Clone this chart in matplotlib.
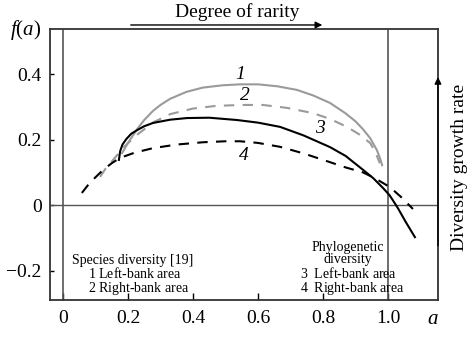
import matplotlib
matplotlib.use("Agg")
import matplotlib.pyplot as plt

plt.rcParams['font.family'] = ['Liberation Serif', 'DejaVu Serif']
plt.rcParams['mathtext.fontset'] = 'custom'
plt.rcParams['mathtext.rm'] = 'Liberation Serif'
plt.rcParams['mathtext.it'] = 'Liberation Serif:italic'

# curve 1 - species diversity, left-bank area
a1 = [0.182, 0.2, 0.228, 0.25, 0.277, 0.3, 0.33, 0.38, 0.43, 0.49, 0.545, 0.6,
      0.66, 0.72, 0.77, 0.822, 0.87, 0.9, 0.923, 0.945, 0.966, 0.975, 0.982]
f1 = [0.159, 0.19, 0.232, 0.26, 0.288, 0.306, 0.325, 0.346, 0.359, 0.366, 0.369, 0.369,
      0.363, 0.352, 0.335, 0.312, 0.28, 0.256, 0.232, 0.205, 0.168, 0.145, 0.122]
# curve 2 - species diversity, right-bank area
a2 = [0.114, 0.13, 0.154, 0.19, 0.228, 0.28, 0.33, 0.4, 0.47, 0.545, 0.615, 0.69,
      0.769, 0.82, 0.874, 0.91, 0.945, 0.96, 0.975]
f2 = [0.086, 0.11, 0.138, 0.18, 0.215, 0.254, 0.278, 0.295, 0.303, 0.306, 0.306, 0.297,
      0.281, 0.264, 0.239, 0.217, 0.19, 0.165, 0.128]
# curve 3 - phylogenetic diversity, left-bank area
a3 = [0.172, 0.176, 0.183, 0.195, 0.21, 0.228, 0.25, 0.277, 0.33, 0.382, 0.45, 0.535,
      0.6, 0.668, 0.74, 0.822, 0.87, 0.923, 0.955, 0.985, 1.005, 1.015, 1.031, 1.055, 1.083]
f3 = [0.138, 0.165, 0.185, 0.202, 0.218, 0.229, 0.241, 0.251, 0.261, 0.266, 0.267, 0.26,
      0.252, 0.239, 0.213, 0.177, 0.15, 0.108, 0.082, 0.052, 0.03, 0.015, -0.01, -0.052, -0.098]
# curve 4 - phylogenetic diversity, right-bank area
a4 = [0.058, 0.08, 0.1, 0.123, 0.15, 0.175, 0.22, 0.277, 0.35, 0.431, 0.5, 0.545,
      0.6, 0.668, 0.74, 0.822, 0.87, 0.923, 0.96, 1.006, 1.04, 1.077]
f4 = [0.037, 0.065, 0.085, 0.107, 0.128, 0.144, 0.16, 0.174, 0.185, 0.192, 0.195, 0.195,
      0.19, 0.178, 0.158, 0.131, 0.115, 0.1, 0.082, 0.055, 0.025, -0.012]

xticks = [0, 0.2, 0.4, 0.6, 0.8, 1.0]
xlabels = ['0', '0.2', '0.4', '0.6', '0.8', '1.0']
yticks = [-0.2, 0, 0.2, 0.4]
ylabels = ['\u22120.2', '0', '0.2', '0.4']

fig = plt.figure(figsize=(4.74, 3.5), dpi=100)
ax = fig.add_axes([0.1055, 0.143, 0.8185, 0.774])
ax.set_xlim(-0.04, 1.154)
ax.set_ylim(-0.29, 0.538)

ax.axvline(0, color='#555555', lw=1.2)
ax.axvline(1.0, color='#555555', lw=1.2)
ax.axhline(0, color='#555555', lw=1.0)

gray = '#9a9a9a'
ax.plot(a1, f1, color=gray, lw=1.5)
ax.plot(a2, f2, color=gray, lw=1.5, dashes=(5, 4))
ax.plot(a3, f3, color='black', lw=1.5)
ax.plot(a4, f4, color='black', lw=1.5, dashes=(5, 4))

for s, x, y in [('1', 0.545, 0.4), ('2', 0.56, 0.335), ('3', 0.79, 0.235), ('4', 0.555, 0.153)]:
    ax.text(x, y, s, fontsize=14, style='italic', ha='center', va='center')

fs = 10
ax.text(0.028, -0.168, 'Species diversity [19]', fontsize=fs, ha='left', va='center')
ax.text(0.077, -0.234, '$\\mathit{1}$ Left-bank area\n$\\mathit{2}$ Right-bank area',
        fontsize=fs, ha='left', va='center', linespacing=0.95)
ax.text(0.877, -0.148, 'Phylogenetic\ndiversity', fontsize=fs, ha='center', va='center',
        linespacing=0.95)
ax.text(0.73, -0.234, '$\\mathit{3}$  Left-bank area\n$\\mathit{4}$  Right-bank area',
        fontsize=fs, ha='left', va='center', linespacing=0.95)

ax.set_xticks(xticks)
ax.set_xticklabels(xlabels)
ax.set_yticks(yticks)
ax.set_yticklabels(ylabels)
ax.tick_params(axis='x', direction='in', length=5, width=1, pad=7, labelsize=14, top=False)
ax.tick_params(axis='y', direction='in', length=3, width=1, pad=6, labelsize=14, right=False)
for sp in ax.spines.values():
    sp.set_linewidth(1.3)
    sp.set_color('#333333')

# axis names
fig.text(26 / 474, 1 - 30 / 350, '$f(a)$', fontsize=15, ha='center', va='center')
fig.text(433 / 474, 1 - 320 / 350, '$a$', fontsize=15, ha='center', va='center')

# arrows
ax.annotate('', xy=(0.709, 1.015), xytext=(0.201, 1.015), xycoords='axes fraction',
            arrowprops=dict(arrowstyle='-|>', color='black', lw=1.0, mutation_scale=10),
            annotation_clip=False)
fig.text(237 / 474, 1 - 12 / 350, 'Degree of rarity', fontsize=14, ha='center', va='center')
ax.annotate('', xy=(1.0, 0.823), xytext=(1.0, 0.2), xycoords='axes fraction',
            arrowprops=dict(arrowstyle='-|>', color='black', lw=1.0, mutation_scale=10,
                            shrinkA=0, shrinkB=0),
            annotation_clip=False)
fig.text(459 / 474, 1 - 167 / 350, 'Diversity growth rate', fontsize=14, rotation=90,
         ha='center', va='center')

fig.savefig('out.png', dpi=100)
